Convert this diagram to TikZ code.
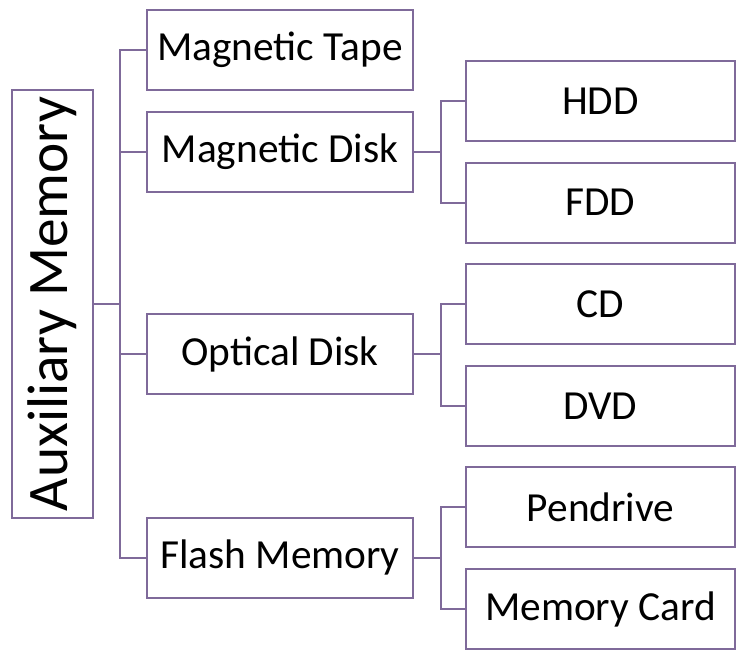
\documentclass[tikz,border=0pt]{standalone}
\usepackage{fontspec}
\setmainfont{Carlito}
\usetikzlibrary{positioning, calc}
\definecolor{linecol}{HTML}{7F6A9A}
\tikzset{
	box/.style={draw=linecol, line width=1.5pt, minimum height=60pt, font=\fontsize{31}{31}\selectfont, inner sep=0pt},
	midbox/.style={box, minimum width=199.5pt},
	leafbox/.style={box, minimum width=201.75pt},
	link/.style={draw=linecol, line width=1.5pt}
}
\begin{document}
\begin{tikzpicture}[x=0.75pt, y=-0.75pt]
	\useasboundingbox (0,0) rectangle (747,661);
	% root
	\node[box, minimum width=321pt, minimum height=60.75pt, rotate=90, font=\fontsize{43}{43}\selectfont] (aux) at (52.5,304) {Auxiliary Memory};
	% middle column
	\node[midbox] (tape) at (280,50) {Magnetic Tape};
	\node[midbox] (disk) at (280,152) {Magnetic Disk};
	\node[midbox] (optical) at (280,354) {Optical Disk};
	\node[midbox] (flash) at (280,557.5) {Flash Memory};
	% leaves
	\node[leafbox] (hdd) at (600.5,101) {HDD};
	\node[leafbox] (fdd) at (600.5,202.5) {FDD};
	\node[leafbox] (cd) at (600.5,304) {CD};
	\node[leafbox] (dvd) at (600.5,406) {DVD};
	\node[leafbox] (pen) at (600.5,507) {Pendrive};
	\node[leafbox] (card) at (600.5,609) {Memory Card};
	% connectors
	\coordinate (trunk) at (120,304);
	\draw[link] (aux.south) -- (trunk);
	\foreach \m in {tape, disk, optical, flash}
		\draw[link] (trunk) |- (\m.west);
	\foreach \m/\a/\b in {disk/hdd/fdd, optical/cd/dvd, flash/pen/card} {
		\coordinate (j\m) at ($(\m.east)+(27,0)$);
		\draw[link] (\m.east) -- (j\m);
		\draw[link] (j\m) |- (\a.west);
		\draw[link] (j\m) |- (\b.west);
	}
\end{tikzpicture}
\end{document}
